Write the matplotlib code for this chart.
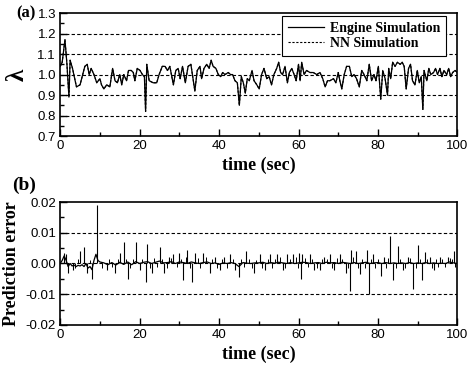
"""Engine lambda trace vs NN simulation, plus prediction error."""
import matplotlib
matplotlib.use("Agg")
import matplotlib.pyplot as plt
from matplotlib.ticker import MultipleLocator, FormatStrFormatter

# --- panel (a): lambda trace ---
lam_t = [0, 0.5, 1.2, 1.7, 2.2, 2.5, 3.1, 4.1, 5.0, 6.2, 6.8, 7.3, 7.8, 8.5, 9.2, 10.0,
         10.4, 11.0, 11.7, 12.5, 13.2, 13.8, 14.4, 15.0, 15.5, 16.0, 16.7, 17.2, 17.9,
         18.4, 18.8, 19.4, 20.1, 20.7, 21.2, 21.5, 21.8, 22.4, 23.4, 24.3, 24.9, 25.7,
         26.4, 27.0, 27.6, 28.5, 29.1, 29.7, 30.2, 30.8, 31.5, 32.2, 32.9, 33.5, 33.9,
         34.5, 35.2, 35.6, 36.2, 36.9, 37.5, 38.0, 38.5, 39.2, 39.8, 40.4, 40.9, 41.5,
         42.3, 42.9, 43.4, 44.0, 44.6, 45.1, 45.6, 46.1, 46.6, 47.1, 47.6, 48.3, 48.8,
         49.5, 50.1, 50.7, 51.3, 52.0, 52.6, 53.2, 53.8, 54.5, 55.0, 55.5, 56.0, 56.6,
         57.2, 57.7, 58.3, 58.9, 59.4, 60.0, 60.4, 60.8, 61.4, 62.0, 62.9, 63.7, 64.6,
         65.4, 66.1, 66.7, 67.3, 67.9, 68.8, 69.4, 70.0, 70.4, 70.9, 71.5, 72.1, 72.8,
         73.4, 74.0, 74.6, 75.3, 75.9, 76.5, 77.2, 77.8, 78.4, 79.0, 79.5, 80.1, 80.7,
         81.2, 81.8, 82.4, 82.7, 83.2, 83.7, 84.3, 84.9, 85.6, 86.1, 86.6, 87.1, 87.7,
         88.2, 88.7, 89.3, 89.9, 90.4, 90.9, 91.3, 91.6, 92.3, 92.8, 93.3, 94.0, 94.5,
         95.0, 95.6, 96.1, 96.6, 97.3, 97.8, 98.3, 98.8, 99.4, 100.0]
lam_v = [1.04, 1.06, 1.17, 1.05, 0.89, 1.07, 1.03, 0.94, 0.95, 1.04, 1.05, 1.00, 1.03, 1.00, 0.96, 0.98,
         0.95, 0.93, 0.95, 0.94, 1.03, 0.97, 0.96, 1.00, 0.95, 1.00, 0.97, 1.02, 1.02,
         1.01, 0.97, 1.03, 1.02, 1.00, 0.99, 0.82, 1.05, 0.97, 0.96, 0.96, 1.00, 1.04,
         1.04, 1.02, 1.04, 0.95, 1.02, 1.03, 0.98, 1.04, 0.96, 1.04, 1.05, 0.97, 0.92,
         1.02, 1.04, 0.98, 1.03, 1.05, 1.03, 1.07, 1.04, 1.03, 1.00, 0.99, 1.01, 1.00,
         1.01, 1.00, 1.00, 0.97, 0.96, 0.85, 0.99, 0.96, 0.91, 0.98, 0.97, 1.02, 0.97,
         0.95, 0.93, 1.00, 1.03, 0.98, 0.99, 0.95, 1.00, 1.03, 1.06, 1.01, 1.00, 1.04,
         0.96, 1.01, 1.03, 1.00, 0.97, 1.05, 0.97, 1.06, 1.00, 1.02, 1.01, 1.01, 1.00,
         1.01, 0.98, 0.94, 0.97, 0.97, 0.98, 0.96, 1.01, 0.97, 0.93, 1.00, 1.04, 1.04,
         0.99, 1.00, 0.98, 0.94, 1.02, 1.00, 0.97, 1.05, 0.97, 1.00, 0.97, 1.04, 0.88,
         1.02, 0.98, 0.90, 1.03, 0.98, 1.06, 1.04, 1.06, 1.05, 1.06, 1.04, 0.93, 1.03,
         1.05, 0.97, 0.95, 1.02, 0.96, 0.99, 0.83, 1.02, 0.97, 1.03, 1.00, 1.01, 1.03,
         1.00, 1.03, 0.99, 1.02, 1.00, 1.03, 0.99, 1.01, 1.02, 1.01]
# NN output sits on top of the engine trace at this scale
nn_v = list(lam_v)

# --- panel (b): prediction error, baseline wiggle + spikes ---
err_t = [0, 0.5, 1.0, 1.5, 2.0, 2.5, 3.0, 3.5, 4.0, 4.5, 5.0, 5.5, 6.0, 6.5, 7.0, 7.5,
         8.0, 8.5, 9.0, 9.5, 10.0, 11, 12, 13, 14, 15, 16, 17, 18, 19, 20, 21, 22, 23, 24,
         25, 26, 27, 28, 29, 30, 31, 32, 33, 34, 35, 36, 37, 38, 39, 40, 41, 42, 43, 44,
         45, 46, 47, 48, 49, 50, 51, 52, 53, 54, 55, 56, 57, 58, 59, 60, 61, 62, 63, 64,
         65, 66, 67, 68, 69, 70, 71, 72, 73, 74, 75, 76, 77, 78, 79, 80, 81, 82, 83, 84,
         85, 86, 87, 88, 89, 90, 91, 92, 93, 94, 95, 96, 97, 98, 99, 100]
err_v = [0.0, 0.001, 0.0025, 0.001, -0.001, 0.0, -0.0008, -0.0005, -0.001, -0.0006, -0.0008,
         -0.0004, -0.001, 0.0, -0.0015, -0.001, -0.002, 0.001, 0.003, 0.001, 0.0005, 0.0002,
         -0.0004, 0.0003, -0.0005, 0.0004, -0.0003, 0.0005, -0.0004, 0.0006, 0.0, 0.0004,
         0.0006, 0.0, 0.0004, 0.0008, 0.0002, 0.0003, 0.0006, 0.0, 0.0005, 0.0003, 0.0,
         0.0005, 0.0002, 0.0, 0.0003, 0.0005, 0.0, 0.0002, -0.0003, 0.0002, 0.0, 0.0003,
         0.0, -0.001, 0.0003, 0.0001, 0.0, 0.0002, 0.0002, 0.0004, 0.0, 0.0003, 0.0001,
         0.0004, 0.0002, 0.0, 0.0003, 0.0, 0.0002, 0.0004, 0.0003, 0.0, 0.0002, 0.0003,
         0.0, 0.0004, 0.0002, 0.0003, 0.0, 0.0004, 0.0002, 0.0, 0.0003, 0.0, 0.0002, 0.0004,
         0.0, 0.0002, 0.0003, 0.0, 0.0003, 0.0, 0.0002, 0.0, 0.0002, 0.0, 0.0003, 0.0,
         0.0002, 0.0, 0.0003, 0.0, 0.0002, 0.0, 0.0001, 0.0, 0.0005, 0.0002, 0.0]
spike_t = [0.9, 1.5, 2.0, 3.1, 5.0, 6.0, 6.8, 8.0, 9.2, 11.7, 13.8, 15.0, 16.0, 17.0,
           19.0, 20.0, 21.6, 21.8, 23.0, 25.1, 26.1, 27.3, 28.5, 29.9, 31.0, 32.0, 33.1,
           33.9, 36.0, 37.7, 39.0, 40.2, 41.3, 42.7, 44.0, 45.0, 46.9, 48.8, 50.3, 51.5,
           52.8, 54.7, 56.0, 57.0, 58.7, 60.2, 60.7, 61.0, 62.9, 64.0, 65.4, 66.5, 67.9,
           69.0, 70.4, 71.9, 73.0, 73.1, 74.5, 75.5, 77.2, 77.8, 78.7, 80.8, 81.5, 83.1,
           83.9, 85.0, 86.4, 87.5, 88.9, 90.1, 91.0, 91.8, 93.0, 94.0, 95.5, 97.7, 99.1]
spike_v = [0.0035, 0.003, -0.003, -0.002, 0.004, 0.0055, -0.003, -0.005, 0.019, -0.002,
           -0.003, 0.0035, 0.007, -0.005, 0.007, -0.002, -0.006, 0.0065, -0.003, 0.0055,
           -0.003, 0.002, 0.003, 0.0035, -0.0055, 0.0045, -0.006, 0.0035, 0.0035, -0.003,
           0.002, -0.002, 0.002, 0.003, -0.002, -0.0045, 0.004, -0.003, 0.003, -0.002,
           0.003, 0.003, -0.002, 0.003, 0.003, 0.0035, -0.005, 0.003, 0.003, -0.002,
           -0.002, 0.002, 0.003, -0.002, 0.003, -0.003, -0.0088, 0.0045, 0.004, -0.0035,
           0.0045, -0.01, 0.003, -0.004, 0.002, 0.0088, -0.0055, 0.0058, -0.002, 0.002,
           -0.0083, 0.006, -0.0053, 0.0038, 0.002, -0.002, 0.002, 0.002, 0.004]
# the many small blips around zero
blip_t = [3.8, 4.4, 7.4, 10.5, 12.4, 13.1, 14.5, 16.6, 17.6, 18.3, 20.6, 22.5, 23.7, 24.4,
          25.7, 27.0, 27.9, 29.3, 30.4, 31.6, 32.6, 34.6, 35.3, 36.7, 38.2, 39.6, 40.8,
          41.9, 43.4, 45.6, 46.2, 47.6, 48.2, 49.4, 50.9, 52.2, 53.4, 54.1, 55.4, 56.6,
          57.8, 59.3, 59.8, 61.6, 62.3, 63.5, 64.6, 65.9, 67.2, 68.4, 69.6, 70.9, 72.4,
          73.6, 75.0, 76.1, 76.7, 78.2, 79.3, 80.1, 82.0, 82.6, 84.5, 85.6, 86.9, 88.1,
          89.5, 90.6, 92.4, 93.5, 94.6, 95.0, 96.1, 96.8, 98.2, 98.7, 99.5]
blip_v = [-0.0015, 0.0015, 0.0012, -0.0015, 0.0015, -0.0012, 0.0015, 0.0015, -0.0015, 0.0015,
          0.0015, -0.0015, 0.0018, -0.0012, 0.0015, -0.0015, 0.0018, -0.0012, 0.0015, 0.002,
          -0.0015, 0.0018, -0.0015, 0.002, 0.0015, -0.0015, 0.0015, -0.0015, 0.0015, 0.0015,
          -0.0012, 0.0015, -0.0015, 0.0012, -0.0015, 0.0015, -0.0015, 0.0015, 0.002, -0.0015,
          0.0015, 0.002, -0.0015, 0.0018, -0.0012, 0.0015, -0.0015, 0.0015, 0.0015, -0.0015,
          0.0018, 0.0015, -0.0015, 0.002, -0.0015, 0.0015, -0.0015, 0.0015, -0.0015, 0.0015,
          -0.0015, 0.0018, -0.0015, 0.0015, -0.0015, 0.0018, -0.0015, 0.0015, 0.0015, -0.0015,
          0.0015, -0.0012, 0.0015, -0.0012, 0.0018, 0.0015, -0.0012]

plt.rcParams["font.family"] = "Liberation Sans"
serif_bold = dict(family="Liberation Serif", fontweight="bold")

fig = plt.figure(figsize=(4.74, 3.79), dpi=100)
ax1 = fig.add_axes([0.127, 0.641, 0.838, 0.3245])
ax2 = fig.add_axes([0.127, 0.1425, 0.838, 0.3245])


def style(ax):
    ax.set_xlim(0, 100)
    ax.xaxis.set_major_locator(MultipleLocator(20))
    ax.xaxis.set_minor_locator(MultipleLocator(10))
    ax.tick_params(which="both", direction="in", top=False, right=False,
                   labelsize=9.5, width=1, pad=3)
    ax.tick_params(which="major", length=5)
    ax.tick_params(which="minor", length=3)
    for s in ax.spines.values():
        s.set_linewidth(1.2)
    ax.set_xlabel("time (sec)", fontsize=13, labelpad=3, **serif_bold)


# panel (a)
for g in [0.8, 0.9, 1.0, 1.1, 1.2]:
    ax1.axhline(g, color="black", lw=0.8, ls=(0, (3, 2)), zorder=1)
ax1.plot(lam_t, lam_v, color="black", lw=0.9, label="Engine Simulation", zorder=3)
ax1.plot(lam_t, nn_v, color="black", lw=0.8, ls=(0, (2, 1.5)),
         label="NN Simulation", zorder=2)
ax1.set_ylim(0.7, 1.3)
ax1.yaxis.set_major_locator(MultipleLocator(0.1))
ax1.yaxis.set_minor_locator(MultipleLocator(0.05))
style(ax1)
ax1.set_ylabel("λ", fontsize=18, labelpad=6, **serif_bold)
leg = ax1.legend(loc="upper right", bbox_to_anchor=(0.972, 0.976), frameon=True,
                 fancybox=False, framealpha=1, edgecolor="black",
                 prop=dict(family="Liberation Serif", weight="bold", size=10),
                 borderaxespad=0, handlelength=2.6, handletextpad=0.45,
                 labelspacing=0.2, borderpad=0.4)
leg.get_frame().set_linewidth(0.8)
fig.text(0.035, 0.965, "(a)", fontsize=12, va="center", **serif_bold)

# panel (b)
for g in [-0.01, 0.0, 0.01]:
    ax2.axhline(g, color="black", lw=0.8, ls=(0, (3, 2)), zorder=1)
ax2.plot(err_t, err_v, color="black", lw=0.9, zorder=3)
ax2.vlines(spike_t, 0, spike_v, color="black", lw=0.8, zorder=3)
ax2.vlines(blip_t, 0, blip_v, color="black", lw=0.7, zorder=3)
ax2.set_ylim(-0.02, 0.02)
ax2.yaxis.set_major_locator(MultipleLocator(0.01))
ax2.yaxis.set_minor_locator(MultipleLocator(0.005))
ax2.yaxis.set_major_formatter(FormatStrFormatter("%.2f"))
style(ax2)
ax2.set_ylabel("Prediction error", fontsize=13, labelpad=4, **serif_bold)
fig.text(0.025, 0.51, "(b)", fontsize=14, va="center", **serif_bold)

fig.savefig("out.png", dpi=100)
